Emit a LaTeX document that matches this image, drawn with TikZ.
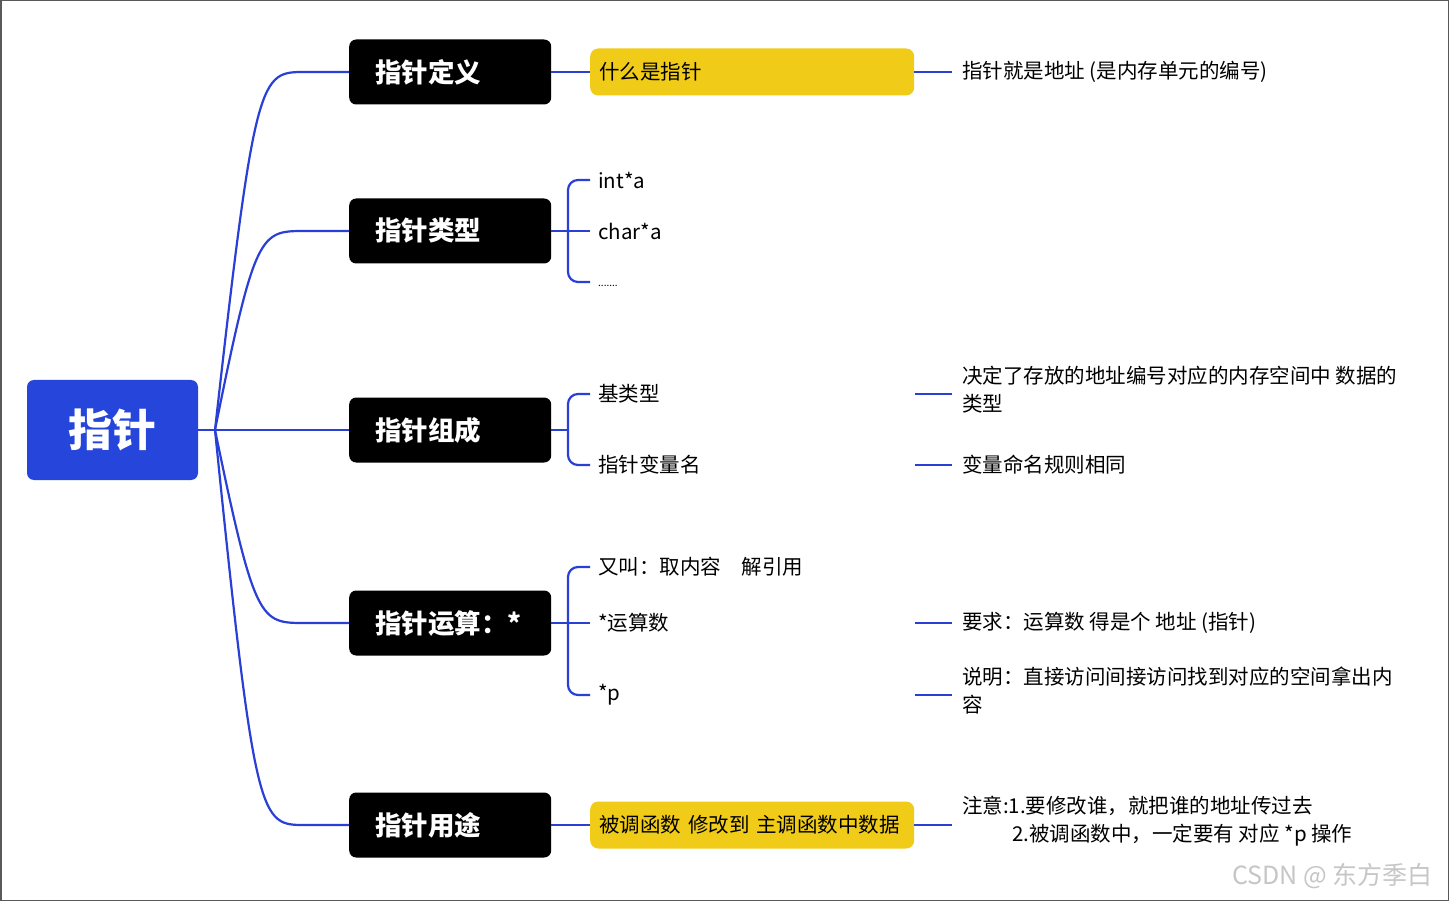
\documentclass[tikz,border=0pt]{standalone}
\usepackage{fontspec}
\setmainfont{Noto Sans CJK SC}
\definecolor{rootb}{HTML}{2645DB}
\definecolor{lineb}{HTML}{2A3FD6}
\definecolor{yel}{HTML}{F0CC18}
\begin{document}
\begin{tikzpicture}[x=1pt,y=-1pt,
  ln/.style={draw=lineb,line width=2.2pt,rounded corners=10pt},
  br/.style={fill=black,rounded corners=7pt,minimum width=201pt,minimum height=65pt,text=white,font=\fontsize{26.5}{30}\selectfont\bfseries,anchor=west,inner xsep=26pt,text width=150pt},
  yb/.style={fill=yel,rounded corners=8pt,minimum width=324pt,minimum height=47pt,anchor=west,inner xsep=9pt,text width=306pt,font=\fontsize{20.5}{24}\selectfont},
  tx/.style={anchor=west,font=\fontsize{20.5}{28}\selectfont,inner sep=0pt,align=left}]
\useasboundingbox (0,0) rectangle (1449,901);
\fill[white] (0,0) rectangle (1449,901);
\draw[gray!70!black,line width=3pt] (0,0) rectangle (1449,901);
\node[fill=rootb,rounded corners=7pt,minimum width=171pt,minimum height=100pt,text=white,font=\fontsize{44}{48}\selectfont\bfseries] (root) at (112.5,430) {指针};
\coordinate (o) at (215,430);
\draw[ln] (root.east) -- (o);
\foreach \n/\y/\t in {b1/72/指针定义,b2/231/指针类型,b3/430/指针组成,b4/623/指针运算：*,b5/825/指针用途}{
  \node[br] (\n) at (349,\y) {\t};
  \draw[lineb,line width=2.2pt] (o) .. controls (255,\y) and (260,\y) .. (305,\y) -- (\n.west);
}
% definition
\node[yb] (y1) at (590,72) {什么是指针};
\draw[ln] (b1.east) -- (y1.west);
\coordinate (e1) at (952,72);
\draw[ln] (y1.east) -- (e1);
\node[tx] (t1) at (962,72) {指针就是地址 (是内存单元的编号)};
% types
\node[tx] (a1) at (598,180) {int*a};
\node[tx] (a2) at (598,231) {char*a};
\node[tx,font=\fontsize{10}{12}\selectfont] (a3) at (598,286) {.......};
\draw[ln] (b2.east) -- (568,231) -- (590,231);
\draw[ln] (590,180) -- (568,180) -- (568,282) -- (590,282);
% composition
\node[tx] (c1) at (598,394) {基类型};
\node[tx] (c2) at (598,465) {指针变量名};
\draw[ln] (b3.east) -- (568,430);
\draw[ln] (590,394) -- (568,394) -- (568,465) -- (590,465);
\draw[ln] (915,394) -- (952,394);
\draw[ln] (915,465) -- (952,465);
\node[tx,anchor=north west] (c3) at (962,366) {决定了存放的地址编号对应的内存空间中 数据的\\类型};
\node[tx] (c4) at (962,465) {变量命名规则相同};
% operation
\node[tx] (d1) at (598,567) {又叫：取内容\quad 解引用};
\node[tx] (d2) at (598,623) {*运算数};
\node[tx] (d3) at (598,695) {*p};
\draw[ln] (b4.east) -- (590,623);
\draw[ln] (590,567) -- (568,567) -- (568,695) -- (590,695);
\draw[ln] (915,623) -- (952,623);
\draw[ln] (915,695) -- (952,695);
\node[tx] (d4) at (962,623) {要求：运算数 得是个 地址 (指针)};
\node[tx,anchor=north west] (d5) at (962,667) {说明：直接访问间接访问找到对应的空间拿出内\\容};
% usage
\node[yb] (y5) at (590,825) {被调函数 修改到 主调函数中数据};
\draw[ln] (b5.east) -- (y5.west);
\draw[ln] (y5.east) -- (952,825);
\node[tx,anchor=north west] (u1) at (962,796) {注意:1.要修改谁，就把谁的地址传过去\\\hspace*{50pt}2.被调函数中，一定要有 对应 *p 操作};
\node[anchor=east,text=gray!45,font=\fontsize{25}{28}\selectfont] (wm) at (1436,876) {CSDN @ 东方季白};
\end{tikzpicture}
\end{document}
